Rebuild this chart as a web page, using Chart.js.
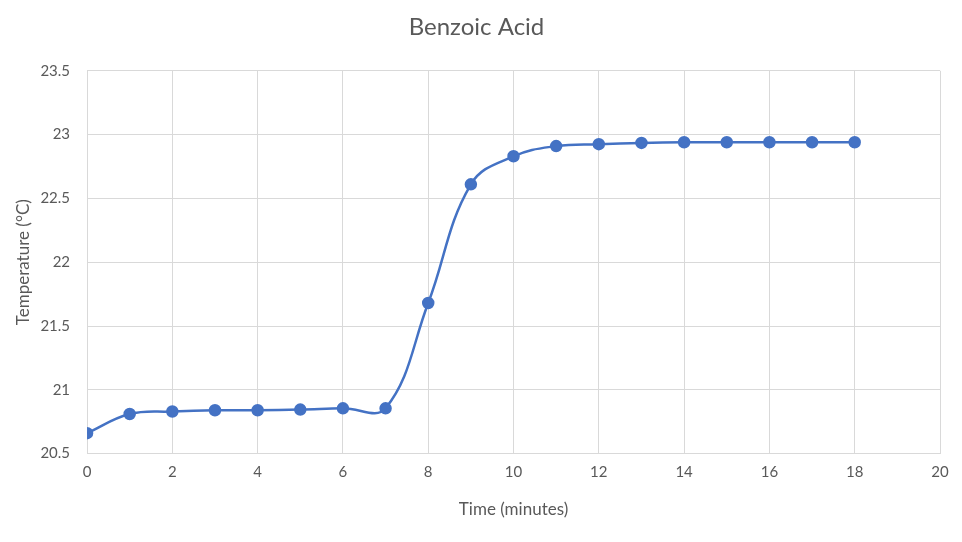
<!DOCTYPE html>
<html>
<head>
<meta charset="utf-8">
<title>Benzoic Acid</title>
<script src="https://cdn.jsdelivr.net/npm/chart.js@4.4.1/dist/chart.umd.min.js"></script>
<style>
    html, body {
        margin: 0;
        padding: 0;
        background: #ffffff;
    }
    #wrap {
        width: 962px;
        height: 542px;
    }
</style>
</head>
<body>
<div id="wrap"><canvas id="tempChart" width="962" height="542"></canvas></div>
<script>
// time in minutes, temperature in °C
const minutes = [0, 1, 2, 3, 4, 5, 6, 7, 8, 9, 10, 11, 12, 13, 14, 15, 16, 17, 18];
const temperatures = [20.66, 20.81, 20.83, 20.84, 20.84, 20.845, 20.855, 20.855, 21.68, 22.61, 22.83,
    22.91, 22.925, 22.935, 22.94, 22.94, 22.94, 22.94, 22.94];

const chartTitle = "Benzoic Acid";
const xTitle = "Time (minutes)";
const yTitle = "Temperature (°C)";

const fontFamily = "Lato, 'Open Sans', sans-serif";
const textColor = "#595959";
const gridColor = "#d9d9d9";
const lineColor = "#4472c4";

const points = minutes.map((m, i) => ({x: m, y: temperatures[i]}));

new Chart(document.getElementById("tempChart").getContext("2d"), {
    type: "scatter",
    data: {
        datasets: [{
            data: points,
            showLine: true,
            borderColor: lineColor,
            backgroundColor: lineColor,
            borderWidth: 2.5,
            pointRadius: 5,
            pointHoverRadius: 5,
            tension: 0.4
        }]
    },
    options: {
        responsive: false,
        animation: false,
        layout: {padding: {left: 13, right: 22, top: 4, bottom: 18}},
        plugins: {
            legend: {display: false},
            tooltip: {enabled: false},
            title: {
                display: true,
                text: chartTitle,
                color: textColor,
                font: {family: fontFamily, size: 24, weight: "normal"},
                padding: {top: 9, bottom: 29}
            }
        },
        scales: {
            x: {
                type: "linear",
                min: 0,
                max: 20,
                ticks: {
                    stepSize: 2,
                    color: textColor,
                    font: {family: fontFamily, size: 15},
                    padding: 10
                },
                grid: {color: gridColor, lineWidth: 1, drawTicks: false},
                border: {color: gridColor},
                title: {
                    display: true,
                    text: xTitle,
                    color: textColor,
                    font: {family: fontFamily, size: 17},
                    padding: {top: 8}
                }
            },
            y: {
                min: 20.5,
                max: 23.5,
                ticks: {
                    stepSize: 0.5,
                    color: textColor,
                    font: {family: fontFamily, size: 15},
                    padding: 17,
                    callback: (value) => `${value}`
                },
                grid: {color: gridColor, lineWidth: 1, drawTicks: false},
                border: {color: gridColor},
                title: {
                    display: true,
                    text: yTitle,
                    color: textColor,
                    font: {family: fontFamily, size: 17},
                    padding: {top: 0, bottom: -10}
                }
            }
        }
    }
});
</script>
</body>
</html>
